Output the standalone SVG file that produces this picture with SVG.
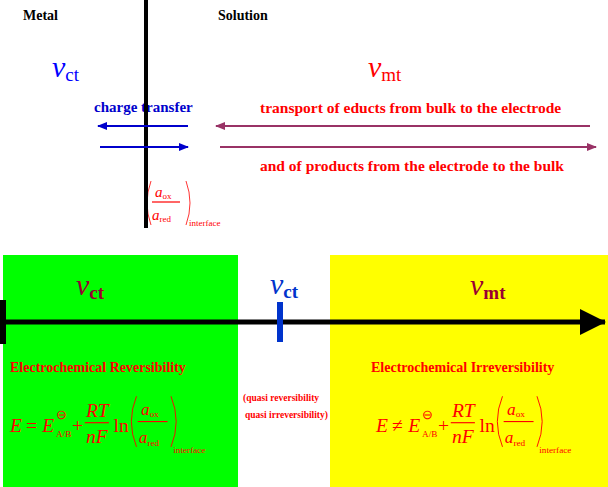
<svg xmlns="http://www.w3.org/2000/svg" width="608" height="487" viewBox="0 0 608 487">
<style>
.s{font-family:"Liberation Serif",serif}
.b{font-weight:bold}
.r{fill:#ff0000}
.i{font-style:italic}
.p{fill:none;stroke:#ff0000;stroke-width:0.8}
</style>
<defs>
<marker id="ab" markerWidth="10" markerHeight="8" refX="9" refY="4" orient="auto" markerUnits="userSpaceOnUse"><path d="M0,0L10,4L0,8z" fill="#0000cc"/></marker>
<marker id="ap" markerWidth="10" markerHeight="8" refX="9" refY="4" orient="auto" markerUnits="userSpaceOnUse"><path d="M0,0L10,4L0,8z" fill="#993366"/></marker>
<marker id="ak" markerWidth="26" markerHeight="26" refX="25" refY="13" orient="auto" markerUnits="userSpaceOnUse"><path d="M0,0L26,13L0,26z" fill="#000"/></marker>
</defs>
<rect width="608" height="487" fill="#fff"/>
<rect x="3" y="255" width="235" height="232" fill="#00ff00"/>
<rect x="330" y="255" width="278" height="232" fill="#ffff00"/>
<g id="top">
<text x="23" y="20" class="s b" font-size="14">Metal</text>
<text x="218" y="20" class="s b" font-size="14">Solution</text>
<text x="52" y="77" class="s i" font-size="30" fill="#0000ff">v<tspan font-style="normal" font-size="19" dy="4">ct</tspan></text>
<text x="368" y="77" class="s i r" font-size="30">v<tspan font-style="normal" font-size="19" dy="4">mt</tspan></text>
<text x="94" y="112" class="s b" font-size="15" fill="#0000cc">charge  transfer</text>
<text x="260" y="113" class="s b r" font-size="15.5">transport of educts from bulk to the electrode</text>
<text x="260" y="171" class="s b r" font-size="15.5">and of products from the electrode to the bulk</text>
<g id="frac1">
<path class="p" d="M151,181Q143,203 151,225M186,181Q194,203 186,225"/>
<line x1="152" y1="202" x2="180" y2="202" stroke="#ff0000" stroke-width="1.2"/>
<text x="155" y="197" class="s i r" font-size="15">a<tspan font-style="normal" font-size="9" dy="2">ox</tspan></text>
<text x="152" y="220" class="s i r" font-size="15">a<tspan font-style="normal" font-size="9" dy="2">red</tspan></text>
<text x="189" y="226" class="s r" font-size="9">interface</text>
</g>
</g>
<g id="connectors">
<line x1="146" y1="0" x2="146" y2="228" stroke="#000" stroke-width="4"/>
<line x1="188" y1="126" x2="98" y2="126" stroke="#0000cc" stroke-width="2" marker-end="url(#ab)"/>
<line x1="100" y1="147" x2="188" y2="147" stroke="#0000cc" stroke-width="2" marker-end="url(#ab)"/>
<line x1="590" y1="126" x2="216" y2="126" stroke="#993366" stroke-width="2" marker-end="url(#ap)"/>
<line x1="220" y1="147" x2="596" y2="147" stroke="#993366" stroke-width="2" marker-end="url(#ap)"/>
<line x1="3" y1="322" x2="605" y2="322" stroke="#000" stroke-width="5" marker-end="url(#ak)"/>
<line x1="3" y1="300" x2="3" y2="344" stroke="#000" stroke-width="6"/>
<line x1="280" y1="302" x2="280" y2="342" stroke="#0033cc" stroke-width="6"/>
</g>
<g id="left">
<text x="76" y="295" class="s i" font-size="30" fill="#990033">v<tspan font-style="normal" font-weight="bold" font-size="19" dy="4">ct</tspan></text>
<text x="10" y="372" class="s b r" font-size="14">Electrochemical Reversibility</text>
<g id="eq1" class="s r" font-size="17" transform="translate(10,425) scale(1.15) translate(-10,-425)">
<text x="10" y="431" class="i">E</text><text x="24" y="431">=</text><text x="38" y="431" class="i">E</text>
<text x="50" y="420" font-size="11">⊖</text><text x="50" y="435" font-size="8">A/B</text>
<text x="64" y="431">+</text>
<text x="76" y="418" class="i">RT</text><line x1="75" y1="423" x2="96" y2="423" stroke="#ff0000"/><text x="76" y="441" class="i">nF</text>
<text x="100" y="431">ln</text>
<path class="p" d="M120,400Q111,422 120,444M150,400Q159,422 150,444"/>
<text x="124" y="416" class="i" font-size="15">a<tspan font-style="normal" font-size="8" dy="2">ox</tspan></text>
<line x1="121" y1="422" x2="147" y2="422" stroke="#ff0000"/>
<text x="122" y="441" class="i" font-size="15">a<tspan font-style="normal" font-size="8" dy="2">red</tspan></text>
<text x="152" y="449" font-size="8">interface</text>
</g>
</g>
<g id="mid">
<text x="270" y="294" class="s i" font-size="30" fill="#0033cc">v<tspan font-style="normal" font-weight="bold" font-size="19" dy="4">ct</tspan></text>
<text x="243" y="401" class="s b r" font-size="9.5">(quasi reversibility</text>
<text x="245" y="418" class="s b r" font-size="9.5">quasi irreversibility)</text>
</g>
<g id="right">
<text x="470" y="295" class="s i" font-size="30" fill="#990033">v<tspan font-style="normal" font-weight="bold" font-size="19" dy="4">mt</tspan></text>
<text x="371" y="372" class="s b r" font-size="14">Electrochemical Irreversibility</text>
<g id="eq2" class="s r" font-size="17" transform="translate(376,425) scale(1.15) translate(-376,-425)">
<text x="376" y="431" class="i">E</text><text x="390" y="431">≠</text><text x="404" y="431" class="i">E</text>
<text x="416" y="420" font-size="11">⊖</text><text x="416" y="435" font-size="8">A/B</text>
<text x="430" y="431">+</text>
<text x="442" y="418" class="i">RT</text><line x1="441" y1="423" x2="462" y2="423" stroke="#ff0000"/><text x="442" y="441" class="i">nF</text>
<text x="466" y="431">ln</text>
<path class="p" d="M486,400Q477,422 486,444M516,400Q525,422 516,444"/>
<text x="490" y="416" class="i" font-size="15">a<tspan font-style="normal" font-size="8" dy="2">ox</tspan></text>
<line x1="487" y1="422" x2="513" y2="422" stroke="#ff0000"/>
<text x="488" y="441" class="i" font-size="15">a<tspan font-style="normal" font-size="8" dy="2">red</tspan></text>
<text x="518" y="449" font-size="8">interface</text>
</g>
</g>
</svg>
